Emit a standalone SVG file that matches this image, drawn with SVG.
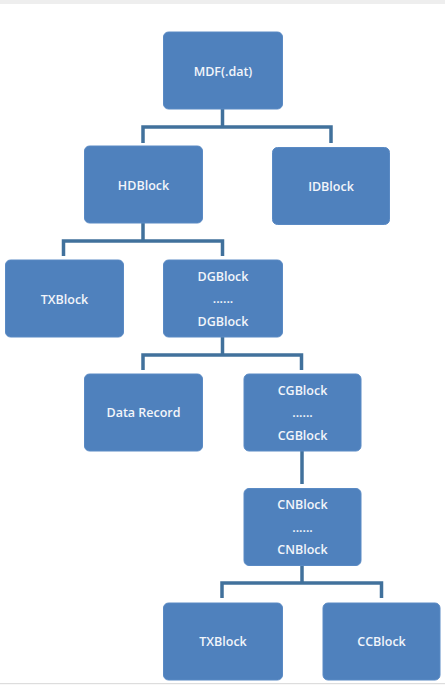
<svg xmlns="http://www.w3.org/2000/svg" width="445" height="692" viewBox="0 0 445 692">
<style>
.box{fill:#4F81BD;stroke:#5A8AC4;stroke-width:1}
.lbl{font-family:"Open Sans","Liberation Sans",Arial,sans-serif;font-size:12.5px;font-weight:600;fill:#F2F5FA;text-anchor:middle}
.con{fill:none;stroke:#41719C;stroke-width:3.5;stroke-linejoin:miter}
</style>
<rect x="0" y="0" width="445" height="692" fill="#FFFFFF"/>
<rect x="0" y="0" width="445" height="4" fill="#EEEEEE"/>
<rect x="0" y="683" width="445" height="1.2" fill="#DDDDDD"/>
<g id="connectors">
<path class="con" d="M222.5 109 V127 M143 143 V127 H331 V143"/>
<path class="con" d="M143 223 V241 M63.5 256 V241 H222.5 V256"/>
<path class="con" d="M222.5 337 V355 M143 370 V355 H301.5 V370"/>
<path class="con" d="M302 451 V484"/>
<path class="con" d="M302 565 V583 M222 598 V583 H381.5 V598"/>
</g>
<g id="mdf"><rect class="box" x="163.5" y="32" width="119" height="77" rx="5"/><text class="lbl" x="223" y="76">MDF(.dat)</text></g>
<g id="hdblock"><rect class="box" x="84.5" y="146" width="118" height="77" rx="5"/><text class="lbl" x="143.5" y="189.5">HDBlock</text></g>
<g id="idblock"><rect class="box" x="272.5" y="147.5" width="117" height="77" rx="5"/><text class="lbl" x="331" y="190.5">IDBlock</text></g>
<g id="txblock1"><rect class="box" x="5.5" y="260" width="118" height="77" rx="5"/><text class="lbl" x="64.5" y="303.5">TXBlock</text></g>
<g id="dgblock"><rect class="box" x="163.5" y="260" width="119" height="77" rx="5"/><text class="lbl" x="223" y="280.5">DGBlock</text><text class="lbl" x="223" y="303">......</text><text class="lbl" x="223" y="325.5">DGBlock</text></g>
<g id="datarecord"><rect class="box" x="84.5" y="374" width="118" height="77" rx="5"/><text class="lbl" x="143.5" y="417">Data Record</text></g>
<g id="cgblock"><rect class="box" x="244" y="374" width="117" height="77" rx="5"/><text class="lbl" x="302.5" y="394.5">CGBlock</text><text class="lbl" x="302.5" y="417">......</text><text class="lbl" x="302.5" y="439.5">CGBlock</text></g>
<g id="cnblock"><rect class="box" x="244" y="488.5" width="117" height="77" rx="5"/><text class="lbl" x="302.5" y="508.5">CNBlock</text><text class="lbl" x="302.5" y="532">......</text><text class="lbl" x="302.5" y="554">CNBlock</text></g>
<g id="txblock2"><rect class="box" x="163.5" y="603" width="119" height="77" rx="5"/><text class="lbl" x="223" y="645.5">TXBlock</text></g>
<g id="ccblock"><rect class="box" x="323" y="603" width="117" height="77" rx="5"/><text class="lbl" x="381.5" y="645.5">CCBlock</text></g>
</svg>
